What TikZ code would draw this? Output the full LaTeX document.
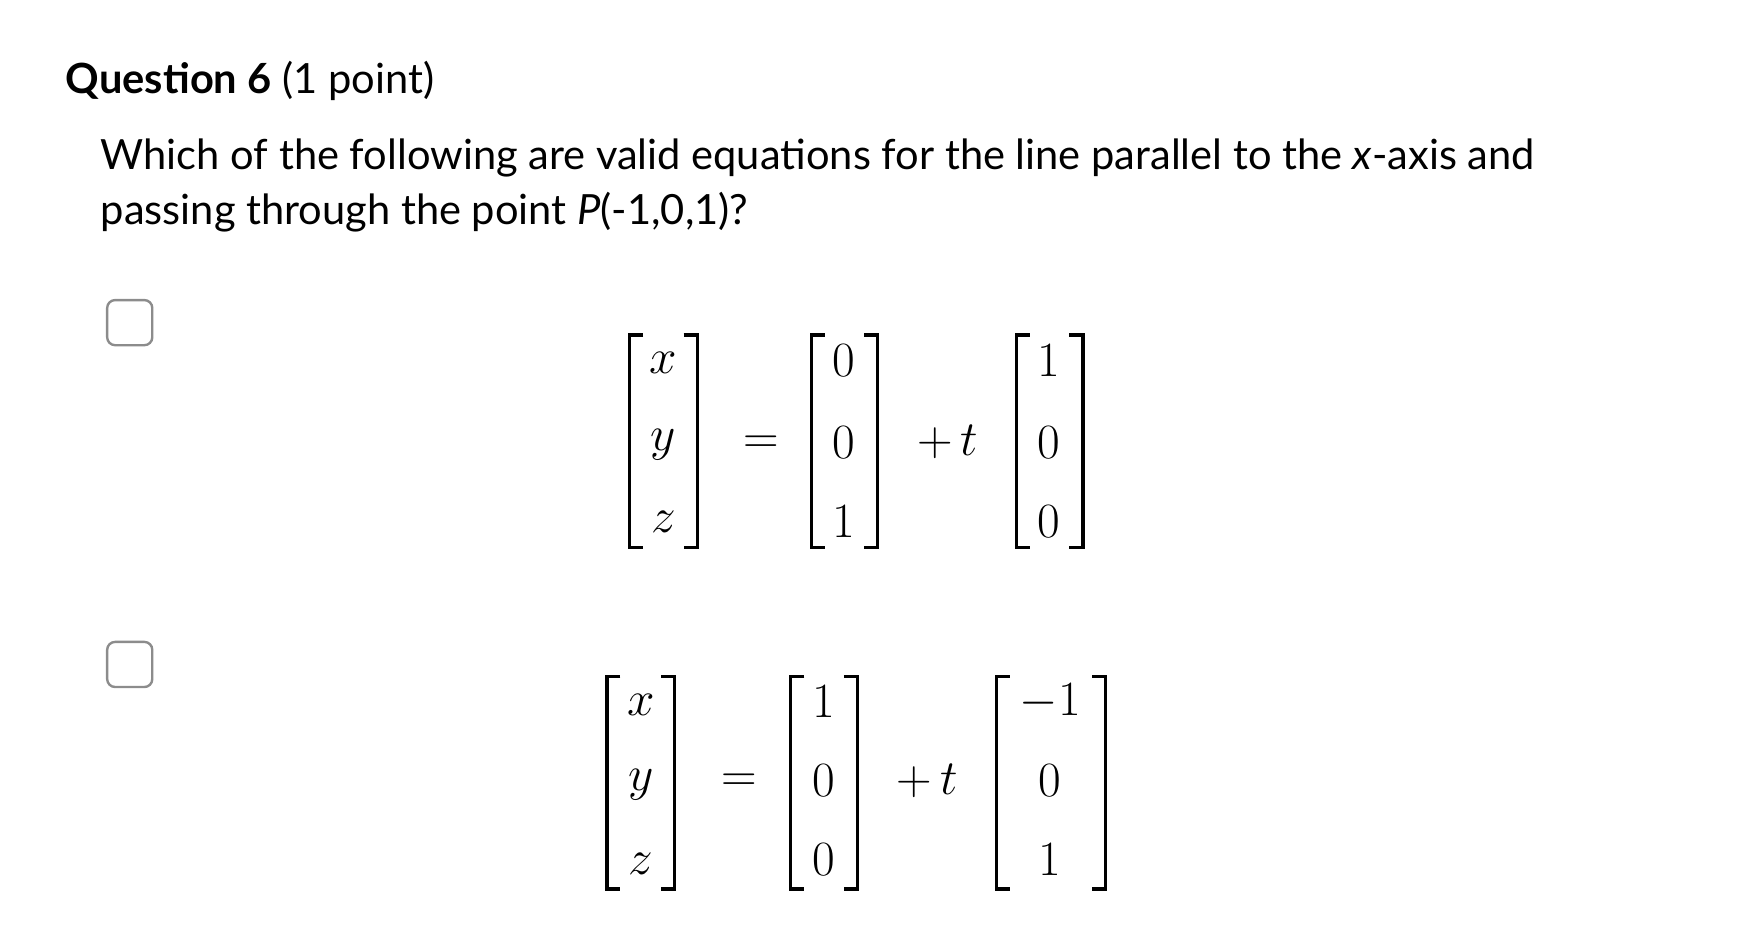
\documentclass[tikz,border=0pt]{standalone}
\usepackage{fontspec}
\setmainfont{Lato}
\usepackage{amsmath}
\begin{document}
\begin{tikzpicture}[x=0.02cm,y=-0.02cm,
  txt/.style={anchor=base west,inner sep=0,font=\fontsize{21}{26}\selectfont},
  ent/.style={inner sep=0,font=\fontsize{29}{35}\selectfont},
  brk/.style={line width=1.6pt},
  cbox/.style={draw=black!45,line width=1.2pt,fill=white,rounded corners=4pt,minimum size=0.8cm,inner sep=0}]
\useasboundingbox (0,0) rectangle (1561,830);
\node[txt] (q) at (58,83) {\textbf{Question 6} (1 point)};
\node[txt] (l1) at (89,150) {Which of the following are valid equations for the line parallel to the \textit{x}-axis and};
\node[txt] (l2) at (89,199) {passing through the point \textit{P}(-1,0,1)?};
\node[cbox] (c1) at (115,286) {};
\node[cbox] (c2) at (115,589) {};
% generic bracket macro
\newcommand{\mybr}[4]{% x1 x2 ytop ybot
 \draw[brk] (#1+12,#3) -- (#1,#3) -- (#1,#4) -- (#1+12,#4);
 \draw[brk] (#2-12,#3) -- (#2,#3) -- (#2,#4) -- (#2-12,#4);}
% eq 1
\mybr{558}{618}{297}{485}
\node[ent] (a1) at (588,322) {$x$};
\node[ent] (a2) at (588,394) {$y$};
\node[ent] (a3) at (588,463) {$z$};
\node[ent] (e1) at (675,394) {$=$};
\mybr{719}{778}{297}{485}
\node[ent] (b1) at (748,320) {$0$};
\node[ent] (b2) at (748,392) {$0$};
\node[ent] (b3) at (748,462) {$1$};
\node[ent] (p1) at (840,392) {$+\,t$};
\mybr{901}{960}{297}{485}
\node[ent] (d1) at (930,320) {$1$};
\node[ent] (d2) at (930,392) {$0$};
\node[ent] (d3) at (930,462) {$0$};
% eq 2
\mybr{538}{598}{600}{788}
\node[ent] (f1) at (568,625) {$x$};
\node[ent] (f2) at (568,696) {$y$};
\node[ent] (f3) at (568,766) {$z$};
\node[ent] (e2) at (655,694) {$=$};
\mybr{701}{760}{600}{788}
\node[ent] (g1) at (730,622) {$1$};
\node[ent] (g2) at (730,692) {$0$};
\node[ent] (g3) at (730,762) {$0$};
\node[ent] (p2) at (822,692) {$+\,t$};
\mybr{883}{980}{600}{788}
\node[ent] (h1) at (931,622) {$-1$};
\node[ent] (h2) at (931,692) {$0$};
\node[ent] (h3) at (931,762) {$1$};
\end{tikzpicture}
\end{document}
